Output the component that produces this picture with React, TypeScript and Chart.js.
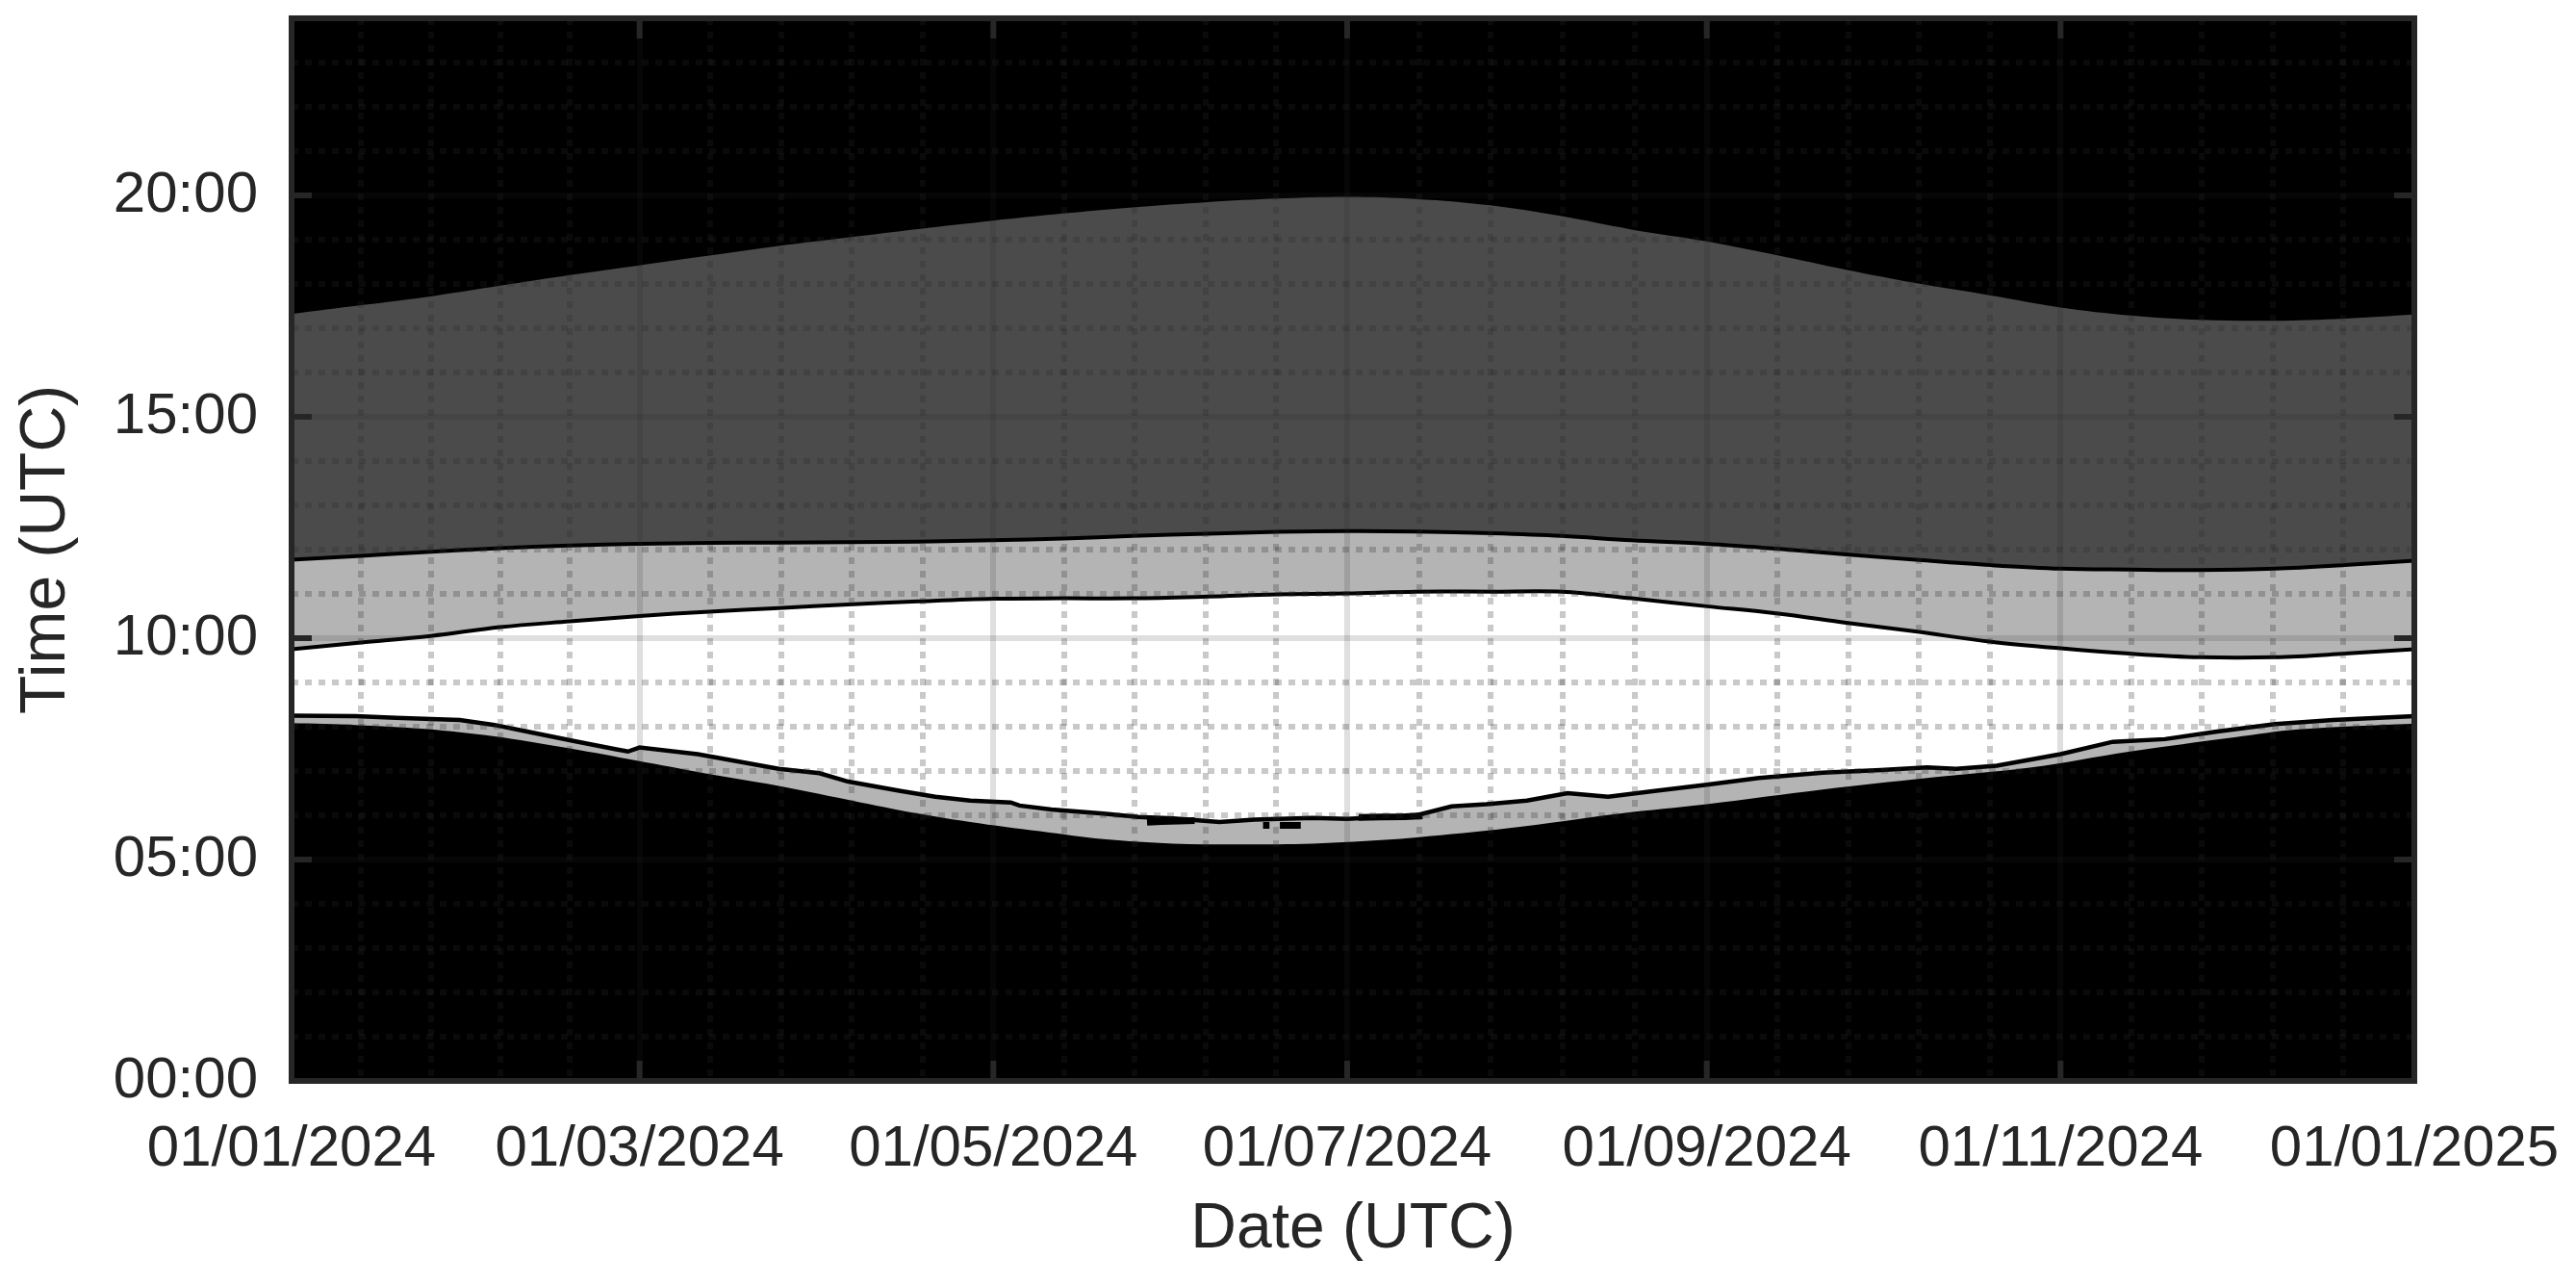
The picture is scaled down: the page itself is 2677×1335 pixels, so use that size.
import React, { useEffect, useRef } from "react";
import { Chart, registerables } from "chart.js";

Chart.register(...registerables);

// ---- data (day index from 01/01/2024, hours UTC) ----
const dayOfYear = [0, 12, 24, 36, 48, 60, 72, 84, 96, 108, 121, 133, 145, 158, 170, 182, 194, 207, 219, 231, 244, 256, 268, 280, 293, 305, 317, 329, 342, 354, 366];

const darkBandTop = [17.32, 17.52, 17.72, 17.96, 18.2, 18.42, 18.64, 18.86, 19.05, 19.24, 19.43, 19.59, 19.73, 19.85, 19.93, 19.97, 19.92, 19.77, 19.53, 19.23, 18.96, 18.65, 18.32, 18.02, 17.74, 17.47, 17.29, 17.19, 17.17, 17.22, 17.31];
const darkBandBottom = [11.77, 11.86, 11.95, 12.03, 12.09, 12.13, 12.15, 12.16, 12.17, 12.18, 12.21, 12.25, 12.31, 12.36, 12.4, 12.42, 12.41, 12.37, 12.31, 12.21, 12.13, 12.02, 11.89, 11.77, 11.65, 11.57, 11.55, 11.54, 11.57, 11.65, 11.75];
const whiteTop = [9.75, 9.9, 10.05, 10.25, 10.38, 10.5, 10.6, 10.68, 10.76, 10.83, 10.89, 10.9, 10.9, 10.94, 10.99, 11.01, 11.05, 11.05, 11.05, 10.9, 10.72, 10.56, 10.35, 10.15, 9.92, 9.77, 9.65, 9.57, 9.57, 9.65, 9.75];

const whiteBottomDays = [0, 11, 18, 29, 35, 41, 49, 56, 58, 60, 70, 76, 84, 91, 96, 105, 111, 117, 124, 125.5, 131, 140, 146, 152, 160, 166, 176, 182, 194, 200, 206, 213, 220, 227, 235, 244, 253, 264, 274, 282, 287, 294, 305, 314, 323, 332, 342, 352, 366];
const whiteBottom = [8.25, 8.24, 8.2, 8.15, 8.04, 7.88, 7.67, 7.49, 7.44, 7.53, 7.38, 7.24, 7.05, 6.95, 6.76, 6.55, 6.42, 6.33, 6.29, 6.22, 6.13, 6.04, 5.96, 5.93, 5.85, 5.9, 5.94, 5.92, 6.0, 6.2, 6.25, 6.33, 6.5, 6.42, 6.55, 6.69, 6.84, 6.96, 7.02, 7.08, 7.05, 7.12, 7.38, 7.66, 7.72, 7.89, 8.06, 8.15, 8.24];

const greyBottomDays = [0, 11, 23, 35, 47, 58, 70, 82, 94, 105, 117, 129, 140, 152, 164, 176, 183, 194, 210, 229, 244, 264, 282, 300, 317, 335, 346, 366];
const greyBottom = [8.08, 8.04, 7.95, 7.78, 7.53, 7.27, 6.98, 6.71, 6.4, 6.11, 5.85, 5.64, 5.46, 5.36, 5.34, 5.36, 5.4, 5.5, 5.71, 6.04, 6.25, 6.58, 6.84, 7.08, 7.44, 7.76, 7.94, 8.07];

const patchDays = [147.5, 150, 153, 155.7, 156, 167.5, 168.6, 169, 170.4, 174, 174.5, 184, 188, 192, 195];
const patchValues = [5.84, 5.86, 5.87, 5.88, null, 5.77, 5.77, null, 5.77, 5.77, null, 5.95, 5.96, 5.97, 5.99];

const xTickValues = [0, 60, 121, 182, 244, 305, 366];
const xTickLabels = ["01/01/2024", "01/03/2024", "01/05/2024", "01/07/2024", "01/09/2024", "01/11/2024", "01/01/2025"];
const xMinorValues = [12, 24, 36, 48, 72.2, 84.4, 96.6, 108.8, 133.2, 145.4, 157.6, 169.8, 194.4, 206.8, 219.2, 231.6, 256.2, 268.4, 280.6, 292.8, 317.2, 329.4, 341.6, 353.8];

const yTickValues = [0, 5, 10, 15, 20];
const yTickLabels = ["00:00", "05:00", "10:00", "15:00", "20:00"];
const yMinorValues = [1, 2, 3, 4, 6, 7, 8, 9, 11, 12, 13, 14, 16, 17, 18, 19, 21, 22, 23];

// ---- styles ----
const FONT = "'Liberation Sans', Arial, Helvetica, sans-serif";
const TEXT = "#262626";
const AXIS = "#262626";
const DARK = "#4b4b4b";
const LIGHT = "#b4b4b4";
const MAJOR_GRID = "rgba(38,38,38,0.15)";
const MINOR_GRID = "rgba(38,38,38,0.25)";

const pts = (xs: number[], ys: (number | null)[]) => xs.map((x, i) => ({ x, y: ys[i] }));

const framePlugin = {
  id: "matlabFrame",
  beforeDraw(chart: any) {
    const { ctx, chartArea: a } = chart;
    ctx.save();
    ctx.fillStyle = "#000000";
    ctx.fillRect(a.left, a.top, a.right - a.left, a.bottom - a.top);
    ctx.restore();
  },
  afterDraw(chart: any) {
    const { ctx, chartArea: a, scales } = chart;
    ctx.save();
    ctx.strokeStyle = AXIS;
    ctx.lineWidth = 6;
    ctx.strokeRect(a.left, a.top, a.right - a.left, a.bottom - a.top);
    const tl = 21;
    ctx.beginPath();
    scales.x.ticks.forEach((t: any) => {
      const px = scales.x.getPixelForValue(t.value);
      ctx.moveTo(px, a.bottom);
      ctx.lineTo(px, a.bottom - tl);
      ctx.moveTo(px, a.top);
      ctx.lineTo(px, a.top + tl);
    });
    scales.y.ticks.forEach((t: any) => {
      const py = scales.y.getPixelForValue(t.value);
      ctx.moveTo(a.left, py);
      ctx.lineTo(a.left + tl, py);
      ctx.moveTo(a.right, py);
      ctx.lineTo(a.right - tl, py);
    });
    ctx.stroke();
    ctx.restore();
  },
};

export default function App() {
  const ref = useRef<HTMLCanvasElement>(null);

  useEffect(() => {
    document.body.style.margin = "0";
    const canvas = ref.current;
    if (!canvas) return;

    const smooth = { pointRadius: 0, pointHoverRadius: 0, tension: 0.35 };
    const rough = { pointRadius: 0, pointHoverRadius: 0, tension: 0 };

    const chart = new Chart(canvas, {
      type: "line",
      data: {
        datasets: [
          { ...smooth, data: pts(dayOfYear, darkBandTop), borderColor: "rgba(0,0,0,0)", borderWidth: 1, backgroundColor: DARK, fill: "+1" },
          { ...smooth, data: pts(dayOfYear, darkBandBottom), borderColor: "#000", borderWidth: 4, backgroundColor: LIGHT, fill: "+1" },
          { ...smooth, data: pts(dayOfYear, whiteTop), borderColor: "#000", borderWidth: 4, backgroundColor: "#ffffff", fill: "+1" },
          { ...rough, data: pts(whiteBottomDays, whiteBottom), borderColor: "#000", borderWidth: 4.5, backgroundColor: LIGHT, fill: "+1" },
          { ...smooth, data: pts(greyBottomDays, greyBottom), borderColor: "rgba(0,0,0,0)", borderWidth: 1, fill: false },
          { ...rough, data: pts(patchDays, patchValues), borderColor: "#000", borderWidth: 7, fill: false, spanGaps: false },
        ],
      },
      options: {
        animation: false,
        responsive: false,
        devicePixelRatio: 1,
        events: [],
        layout: { padding: { left: 0, top: 19, right: 168, bottom: 0 } },
        plugins: {
          legend: { display: false },
          tooltip: { enabled: false },
          filler: { drawTime: "beforeDatasetsDraw" },
        } as any,
        scales: {
          x: {
            type: "linear",
            position: "bottom",
            min: 0,
            max: 366,
            afterBuildTicks: (s: any) => {
              s.ticks = xTickValues.map((v) => ({ value: v }));
            },
            afterFit: (s: any) => {
              s.height = 212;
              s.paddingLeft = 0;
              s.paddingRight = 0;
            },
            ticks: {
              autoSkip: false,
              maxRotation: 0,
              minRotation: 0,
              padding: 35,
              color: TEXT,
              font: { family: FONT, size: 60 },
              callback: (v: any) => {
                const i = xTickValues.indexOf(Number(v));
                return i >= 0 ? xTickLabels[i] : "";
              },
            },
            grid: { color: MAJOR_GRID, lineWidth: 6, drawTicks: false, z: 1 },
            border: { display: false },
            title: {
              display: true,
              text: "Date (UTC)",
              color: TEXT,
              font: { family: FONT, size: 66 },
              padding: { top: 0, bottom: 18 },
            },
          },
          xMinor: {
            type: "linear",
            position: "bottom",
            min: 0,
            max: 366,
            afterBuildTicks: (s: any) => {
              s.ticks = xMinorValues.map((v) => ({ value: v }));
            },
            afterFit: (s: any) => {
              s.height = 0;
              s.paddingLeft = 0;
              s.paddingRight = 0;
            },
            ticks: { display: false },
            grid: { color: MINOR_GRID, lineWidth: 6, drawTicks: false, z: 1 },
            border: { display: false, dash: [7, 7] },
          },
          y: {
            type: "linear",
            position: "left",
            min: 0,
            max: 24,
            afterBuildTicks: (s: any) => {
              s.ticks = yTickValues.map((v) => ({ value: v }));
            },
            afterFit: (s: any) => {
              s.width = 303;
              s.paddingTop = 0;
              s.paddingBottom = 0;
            },
            ticks: {
              padding: 35,
              color: TEXT,
              font: { family: FONT, size: 60 },
              callback: (v: any) => {
                const i = yTickValues.indexOf(Number(v));
                return i >= 0 ? yTickLabels[i] : "";
              },
            },
            grid: { color: MAJOR_GRID, lineWidth: 6, drawTicks: false, z: 1 },
            border: { display: false },
            title: {
              display: true,
              text: "Time (UTC)",
              color: TEXT,
              font: { family: FONT, size: 66 },
              padding: { top: 9, bottom: 0 },
            },
          },
          yMinor: {
            type: "linear",
            position: "left",
            min: 0,
            max: 24,
            afterBuildTicks: (s: any) => {
              s.ticks = yMinorValues.map((v) => ({ value: v }));
            },
            afterFit: (s: any) => {
              s.width = 0;
              s.paddingTop = 0;
              s.paddingBottom = 0;
            },
            ticks: { display: false },
            grid: { color: MINOR_GRID, lineWidth: 6, drawTicks: false, z: 1 },
            border: { display: false, dash: [7, 7] },
          },
        } as any,
      },
      plugins: [framePlugin],
    });

    return () => chart.destroy();
  }, []);

  return (
    <div style={{ width: 2677, height: 1335, background: "#ffffff" }}>
      <canvas ref={ref} width={2677} height={1335} style={{ display: "block", width: 2677, height: 1335 }} />
    </div>
  );
}
